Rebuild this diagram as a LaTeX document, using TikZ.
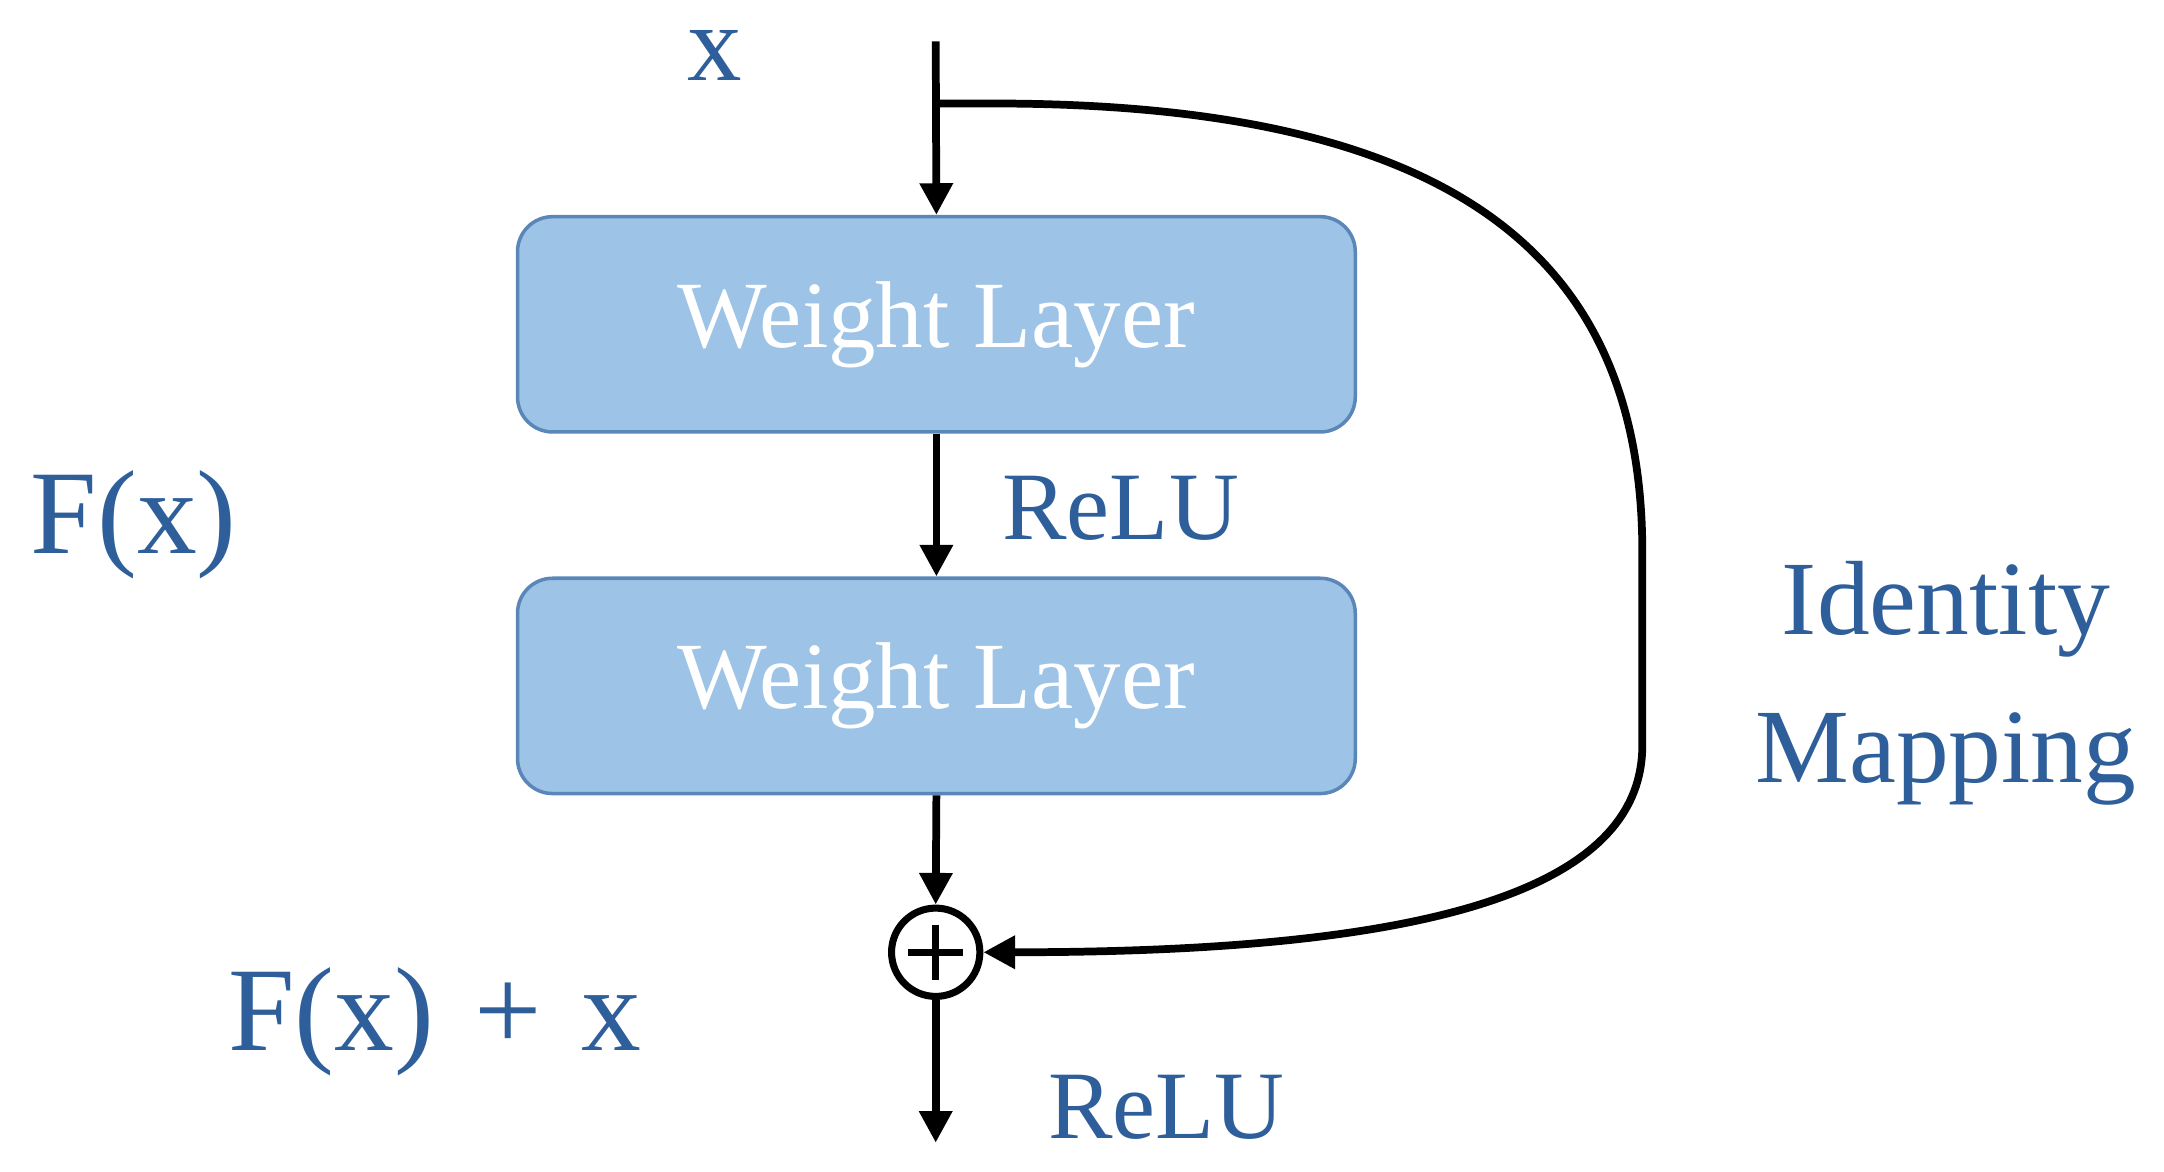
\documentclass[tikz,border=0pt]{standalone}
\usepackage{fontspec}
\setmainfont{Liberation Serif}
\usetikzlibrary{arrows.meta}
\definecolor{boxfill}{HTML}{9DC3E6}
\definecolor{boxdraw}{HTML}{5B86B8}
\definecolor{txt}{HTML}{2E5F9A}
\begin{document}
\begin{tikzpicture}[x=0.0138cm,y=-0.0138cm,
  box/.style={draw=boxdraw,line width=1pt,fill=boxfill,rounded corners=0.35cm,minimum width=607*0.0138cm,minimum height=156*0.0138cm,inner sep=0pt,text=white,font=\fontsize{27}{30}\selectfont},
  lbl/.style={text=txt,inner sep=0pt},
  arr/.style={line width=2.2pt,-{Triangle[length=9pt,width=9pt]}}]
\useasboundingbox (0,0) rectangle (1568,849);
\node[lbl,font=\fontsize{31}{34}\selectfont] (x) at (518,40) {x};
\coordinate (top) at (678,30);
\coordinate (split) at (678,75);
\node[box] (b1) at (678.5,235) {Weight Layer};
\node[box] (b2) at (678.5,497) {Weight Layer};
\node[circle,draw=black,line width=2pt,minimum size=64*0.0138cm,inner sep=0pt] (sum) at (678,690) {};
\draw[line width=2pt] (678,670) -- (678,710) (658,690) -- (698,690);
\coordinate (out) at (678,828);
\draw[arr] (top) -- (b1.north);
\draw[arr] (b1.south) -- (b2.north);
\draw[arr] (b2.south) -- (sum.north);
\draw[arr] (sum.south) -- (out);
\draw[arr] (split) -- (720,75) .. controls (1060,75) and (1190,190) .. (1190,400) -- (1190,540) .. controls (1190,650) and (1020,690) .. (sum.east);
\node[lbl,font=\fontsize{27.5}{30}\selectfont] (r1) at (812,368) {ReLU};
\node[lbl,font=\fontsize{27.5}{30}\selectfont] (r2) at (845,802) {ReLU};
\node[lbl,font=\fontsize{34}{36}\selectfont] (f) at (97,380) {F(x)};
\node[lbl,font=\fontsize{34}{36}\selectfont] (fx) at (315,740) {F(x)\,\,+\,\,x};
\node[lbl,font=\fontsize{30}{42}\selectfont,align=center] (id) at (1410,495) {Identity\\Mapping};
\end{tikzpicture}
\end{document}
